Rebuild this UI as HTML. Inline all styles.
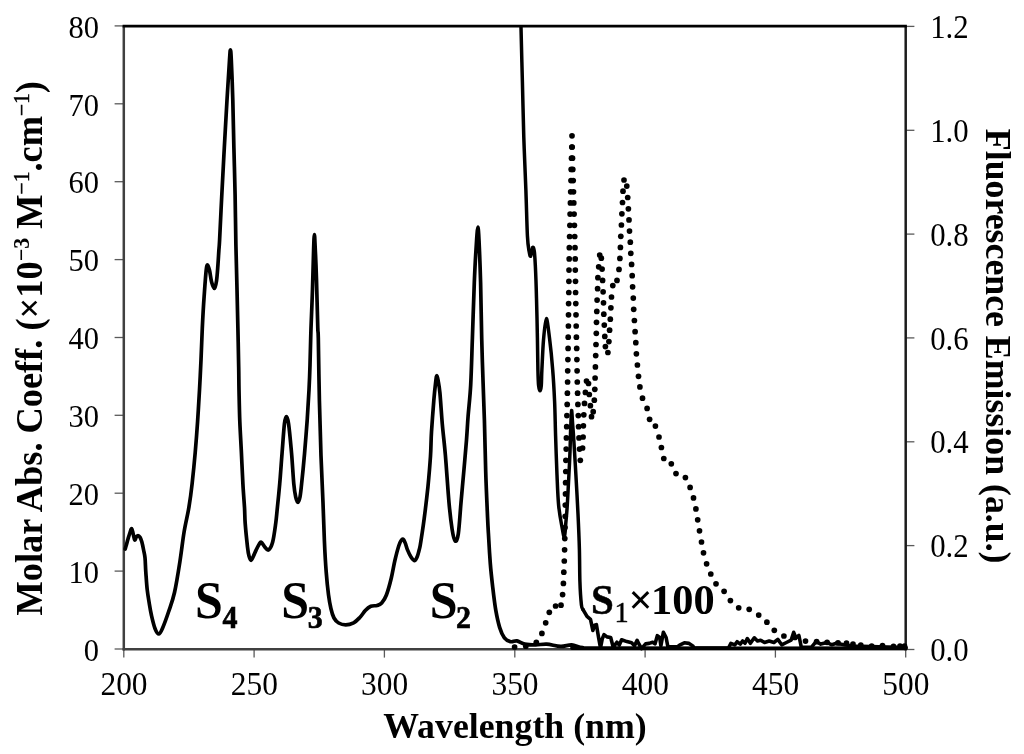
<!DOCTYPE html><html><head><meta charset="utf-8"><title>Absorption and fluorescence spectra</title>
<style>html,body{margin:0;padding:0;background:#fff}svg{display:block}text{font-family:"Liberation Serif","Times New Roman",serif;fill:#000}.tk{font-size:30.5px}.b{font-weight:bold}</style></head><body>
<svg width="1024" height="754" viewBox="0 0 1024 754">
<rect width="1024" height="754" fill="#fff"/>
<g stroke="#5a5a5a" stroke-width="1.3" fill="none">
<line x1="114.6" y1="649.0" x2="123.8" y2="649.0"/>
<line x1="114.6" y1="571.1" x2="123.8" y2="571.1"/>
<line x1="114.6" y1="493.2" x2="123.8" y2="493.2"/>
<line x1="114.6" y1="415.3" x2="123.8" y2="415.3"/>
<line x1="114.6" y1="337.5" x2="123.8" y2="337.5"/>
<line x1="114.6" y1="259.6" x2="123.8" y2="259.6"/>
<line x1="114.6" y1="181.7" x2="123.8" y2="181.7"/>
<line x1="114.6" y1="103.8" x2="123.8" y2="103.8"/>
<line x1="114.6" y1="25.9" x2="123.8" y2="25.9"/>
<line x1="123.8" y1="649.2" x2="123.8" y2="657.6"/>
<line x1="254.1" y1="649.2" x2="254.1" y2="657.6"/>
<line x1="384.4" y1="649.2" x2="384.4" y2="657.6"/>
<line x1="514.8" y1="649.2" x2="514.8" y2="657.6"/>
<line x1="645.1" y1="649.2" x2="645.1" y2="657.6"/>
<line x1="775.4" y1="649.2" x2="775.4" y2="657.6"/>
<line x1="905.7" y1="649.2" x2="905.7" y2="657.6"/>
<line x1="905.7" y1="649.5" x2="914.4" y2="649.5"/>
<line x1="905.7" y1="545.6" x2="914.4" y2="545.6"/>
<line x1="905.7" y1="441.8" x2="914.4" y2="441.8"/>
<line x1="905.7" y1="337.9" x2="914.4" y2="337.9"/>
<line x1="905.7" y1="234.1" x2="914.4" y2="234.1"/>
<line x1="905.7" y1="130.3" x2="914.4" y2="130.3"/>
<line x1="905.7" y1="26.4" x2="914.4" y2="26.4"/>
</g>
<g stroke="#404040" stroke-width="2.5" fill="none">
<line x1="123.8" y1="26.1" x2="123.8" y2="650.4"/>
<line x1="122.6" y1="649.2" x2="905.7" y2="649.2"/>
</g>
<line x1="905.7" y1="26.1" x2="905.7" y2="650.4" stroke="#1c1c1c" stroke-width="2.5"/>
<line x1="122.6" y1="26.1" x2="906.9" y2="26.1" stroke="#000" stroke-width="2.8"/>
<g fill="none" stroke="#000" stroke-linejoin="round" stroke-linecap="round">
<path stroke-width="3.7" d="M125.2 549.0C125.4 548.2 126.0 546.2 126.5 544.5C127.0 542.8 127.4 541.0 128.0 539.0C128.6 537.0 129.4 534.2 130.0 532.5C130.6 530.8 131.2 528.4 131.7 528.6C132.2 528.9 132.7 532.1 133.2 534.0C133.7 535.9 134.2 539.5 134.7 540.0C135.2 540.5 135.8 537.7 136.3 537.0C136.9 536.3 137.4 535.6 138.0 535.6C138.6 535.6 139.4 536.3 140.0 537.3C140.6 538.3 141.2 539.7 141.8 541.8C142.4 543.9 143.1 547.4 143.6 550.0C144.1 552.6 144.6 554.0 145.0 557.7C145.4 561.4 145.4 566.7 145.8 572.0C146.2 577.3 146.6 584.4 147.2 589.6C147.8 594.8 148.5 598.7 149.2 603.0C149.9 607.3 150.5 611.2 151.5 615.5C152.5 619.8 153.8 625.4 155.0 628.5C156.2 631.6 157.6 634.0 158.8 634.0C160.0 634.0 160.8 632.2 162.4 628.5C164.0 624.8 166.5 618.0 168.5 612.0C170.5 606.0 172.6 601.0 174.5 592.5C176.4 584.0 178.4 571.2 180.0 561.0C181.6 550.8 182.7 540.2 184.2 531.3C185.7 522.4 187.6 515.3 188.9 507.4C190.2 499.5 191.1 493.0 192.1 483.9C193.1 474.8 194.3 463.0 195.2 452.6C196.1 442.2 196.9 431.7 197.6 421.3C198.3 410.9 198.9 400.2 199.5 390.0C200.1 379.8 200.5 370.3 201.0 360.0C201.5 349.7 201.8 338.7 202.3 328.2C202.8 317.7 203.4 306.6 204.1 296.9C204.8 287.2 205.6 275.3 206.2 270.0C206.8 264.7 207.1 264.9 207.7 265.0C208.2 265.1 208.8 267.5 209.5 270.3C210.2 273.1 210.8 279.0 211.6 282.0C212.4 285.0 213.7 288.7 214.5 288.5C215.3 288.3 215.9 284.8 216.5 281.0C217.1 277.2 217.5 270.7 217.9 265.5C218.3 260.3 218.6 254.2 218.9 250.0C219.2 245.8 219.1 249.2 219.6 240.0C220.1 230.8 221.0 210.3 221.8 195.0C222.6 179.7 223.4 163.8 224.3 148.0C225.2 132.2 226.1 114.7 227.0 100.0C227.9 85.3 228.9 68.4 229.5 60.0C230.1 51.6 230.1 49.8 230.4 49.8C230.7 49.8 230.9 51.6 231.3 60.0C231.7 68.4 232.4 85.3 232.8 100.0C233.2 114.7 233.5 132.2 233.9 148.0C234.3 163.8 234.8 178.8 235.1 195.0C235.4 211.2 235.6 229.3 235.9 245.0C236.2 260.7 236.7 275.2 237.0 289.1C237.3 303.0 237.6 315.1 237.9 328.2C238.2 341.2 238.5 357.1 238.7 367.4C238.9 377.7 238.8 381.0 239.0 390.0C239.2 399.0 239.4 410.9 239.8 421.3C240.2 431.7 240.9 442.2 241.4 452.6C241.9 463.0 242.4 474.8 242.9 483.9C243.4 493.0 244.1 500.8 244.5 507.4C244.9 514.0 244.7 516.9 245.2 523.5C245.7 530.1 246.9 541.6 247.5 547.0C248.1 552.4 248.4 553.8 249.0 556.0C249.6 558.2 250.3 560.3 251.1 560.3C251.8 560.3 252.7 557.7 253.5 556.0C254.3 554.3 255.2 552.0 256.1 550.1C257.0 548.2 258.1 545.8 259.0 544.5C259.9 543.2 260.2 541.9 261.2 542.3C262.2 542.7 263.6 545.7 264.8 547.0C266.0 548.3 267.2 550.8 268.5 550.0C269.8 549.2 271.4 546.7 272.6 542.3C273.8 537.9 274.9 529.3 275.7 523.5C276.5 517.7 276.7 514.0 277.4 507.4C278.1 500.8 278.9 493.0 279.7 483.9C280.5 474.8 281.3 462.6 282.1 452.6C282.9 442.6 283.7 430.0 284.4 424.0C285.1 418.0 285.7 416.6 286.4 416.6C287.1 416.6 287.8 418.0 288.6 424.0C289.5 430.0 290.6 442.6 291.5 452.6C292.4 462.6 293.1 476.5 293.8 483.9C294.5 491.3 295.0 493.9 295.7 497.0C296.4 500.1 297.3 502.3 298.0 502.3C298.7 502.3 299.4 500.1 300.0 497.0C300.6 493.9 300.9 491.1 301.6 483.9C302.4 476.7 303.6 464.6 304.5 454.0C305.4 443.4 306.4 430.7 307.2 420.0C307.9 409.3 308.5 399.2 309.0 390.0C309.5 380.8 309.7 375.3 310.0 365.0C310.3 354.7 310.6 340.7 311.0 328.0C311.4 315.3 312.1 302.0 312.5 289.0C312.9 276.0 313.3 259.1 313.6 250.0C313.9 240.9 314.1 234.5 314.4 234.5C314.7 234.5 314.9 242.4 315.3 250.0C315.7 257.6 316.1 267.0 316.5 280.0C316.9 293.0 317.5 318.3 317.8 328.0C318.1 337.7 318.0 325.9 318.3 338.0C318.6 350.1 318.9 380.9 319.4 400.6C319.8 420.3 320.4 438.9 321.0 456.0C321.6 473.1 322.4 488.8 323.0 503.0C323.6 517.2 323.9 529.5 324.4 541.0C324.9 552.5 325.5 563.0 326.2 572.0C326.9 581.0 327.7 588.7 328.5 594.8C329.3 600.9 330.0 604.6 330.9 608.5C331.8 612.4 332.7 615.6 334.0 618.0C335.3 620.4 336.8 621.9 338.7 623.0C340.6 624.1 343.2 624.8 345.7 624.8C348.2 624.8 351.2 624.0 353.6 622.8C356.0 621.6 357.9 619.5 359.8 617.5C361.8 615.5 363.5 612.4 365.3 610.5C367.1 608.6 368.9 607.1 370.8 606.3C372.8 605.5 375.2 606.0 377.0 605.5C378.8 605.0 380.1 604.8 381.7 603.0C383.3 601.2 384.8 599.2 386.4 595.0C388.0 590.8 389.9 583.8 391.3 578.0C392.7 572.2 393.7 565.4 395.0 560.0C396.3 554.6 397.7 549.0 398.9 545.5C400.1 542.0 401.4 539.7 402.4 539.2C403.4 538.7 404.1 540.7 405.0 542.5C405.9 544.3 406.5 547.5 407.5 549.9C408.5 552.3 409.8 555.2 411.0 557.0C412.2 558.8 413.6 560.7 414.7 560.6C415.8 560.5 416.6 558.1 417.3 556.5C418.0 554.9 418.4 552.8 418.9 551.0C419.4 549.2 419.7 548.3 420.2 545.5C420.7 542.7 421.3 538.5 422.0 534.0C422.7 529.5 423.2 526.4 424.2 518.6C425.2 510.8 426.8 497.7 427.9 487.3C428.9 476.9 429.9 465.2 430.5 456.0C431.1 446.8 430.9 441.1 431.5 431.9C432.1 422.7 433.1 409.1 433.8 400.6C434.5 392.1 435.3 385.2 435.8 381.0C436.3 376.8 436.5 375.6 436.9 375.6C437.3 375.6 437.7 378.1 438.2 381.0C438.7 383.9 439.2 385.6 439.9 392.8C440.6 400.0 441.4 413.7 442.3 424.1C443.2 434.5 444.3 442.3 445.4 455.4C446.5 468.5 447.9 490.3 449.0 502.6C450.1 514.9 451.1 522.8 452.1 529.2C453.1 535.6 454.2 540.2 455.2 541.0C456.2 541.8 457.3 540.3 458.3 533.9C459.3 527.5 460.1 513.0 461.0 502.6C461.9 492.2 462.9 481.7 463.8 471.3C464.7 460.9 465.8 449.2 466.5 440.0C467.2 430.8 467.4 425.4 468.1 416.2C468.8 407.0 470.0 397.9 470.7 384.9C471.4 371.9 471.8 355.1 472.4 338.0C473.0 320.9 473.7 297.1 474.3 282.6C474.9 268.2 475.3 260.5 475.9 251.3C476.5 242.1 477.3 227.2 477.9 227.2C478.5 227.2 479.1 242.1 479.5 251.3C479.9 260.5 480.2 268.2 480.6 282.6C481.0 297.1 481.3 322.2 481.7 338.0C482.1 353.8 482.4 363.4 482.9 377.1C483.3 390.8 483.9 404.3 484.4 420.0C484.9 435.7 485.2 454.9 485.7 471.3C486.2 487.7 487.1 506.8 487.6 518.2C488.1 529.7 488.4 532.5 488.8 540.0C489.2 547.5 489.7 555.7 490.3 563.5C490.9 571.3 491.8 579.2 492.7 587.0C493.6 594.8 494.6 603.6 495.8 610.4C497.0 617.2 498.3 623.0 499.7 627.6C501.1 632.2 502.6 635.4 504.4 637.8C506.2 640.1 508.6 641.2 510.7 641.7C512.8 642.2 514.5 640.5 516.9 640.9C519.2 641.3 521.7 643.4 524.8 644.1C527.9 644.8 532.1 644.9 535.7 644.9C539.4 644.9 542.5 643.9 546.7 644.1C550.9 644.4 556.6 646.3 560.8 646.4C565.0 646.5 568.1 644.7 571.7 644.9C575.4 645.1 578.0 647.2 582.7 647.7C587.4 648.2 546.1 648.1 600.0 648.2C653.9 648.3 855.0 648.2 906.0 648.2"/>
<path stroke-width="3.5" d="M521.0 27.2C521.2 36.3 521.9 63.6 522.4 82.0C522.9 100.4 523.2 119.3 523.8 137.4C524.4 155.5 525.3 174.2 525.9 190.6C526.5 207.0 526.9 225.5 527.4 235.6C527.9 245.7 528.5 247.9 529.1 251.3C529.7 254.7 530.1 256.8 530.7 256.2C531.3 255.5 532.1 248.2 532.7 247.4C533.3 246.6 533.8 248.0 534.3 251.3C534.8 254.6 535.0 259.2 535.4 267.0C535.8 274.8 536.2 286.5 536.5 298.2C536.8 309.9 537.2 325.5 537.4 337.4C537.6 349.2 537.7 361.3 537.9 369.3C538.1 377.3 538.2 381.9 538.6 385.5C539.0 389.1 539.5 390.8 540.0 390.8C540.5 390.8 541.0 389.1 541.3 385.5C541.6 381.9 541.5 376.9 541.9 369.3C542.3 361.7 542.8 348.4 543.5 340.0C544.2 331.6 545.3 318.9 546.3 318.6C547.3 318.3 548.4 329.4 549.5 338.0C550.6 346.6 551.9 359.4 552.7 370.0C553.6 380.6 554.1 390.5 554.6 401.5C555.1 412.5 555.2 423.8 555.6 436.0C556.0 448.2 556.5 463.5 557.0 475.0C557.5 486.5 557.8 496.5 558.6 505.0C559.4 513.5 560.8 520.7 561.8 526.0C562.8 531.3 563.7 537.7 564.4 537.0C565.1 536.3 565.4 527.3 565.9 522.0C566.4 516.7 566.8 512.8 567.3 505.0C567.8 497.2 568.4 483.9 568.9 475.0C569.4 466.1 569.7 459.4 570.0 451.6C570.3 443.8 570.4 434.9 570.7 428.0C571.0 421.1 571.3 411.0 571.6 410.5C571.9 410.0 572.3 420.1 572.7 425.0C573.1 429.9 573.3 431.7 573.8 440.0C574.3 448.3 575.2 462.7 575.9 475.0C576.6 487.3 577.4 501.6 578.0 514.0C578.6 526.4 579.1 538.3 579.4 549.5C579.7 560.7 579.6 572.1 579.9 581.3C580.2 590.5 580.9 600.1 581.4 604.8C581.9 609.5 582.6 608.6 582.9 609.4"/>
<path stroke-width="3.6" d="M582.9 609.4L587.0 616.4L590.5 619.3L592.9 630.5L594.6 625.2L596.4 624.6L598.8 638.7L600.5 648.0L602.3 638.7L604.0 634.6L607.0 636.9L610.7 637.5L613.4 648.0L615.2 644.5L616.9 642.2L619.3 645.1L621.6 639.8L626.9 641.6L631.6 642.8L634.5 645.7L637.1 640.4L639.2 644.5L641.5 648.6L645.6 643.9L649.1 643.4L652.7 642.2L655.0 643.9L657.3 635.7L659.7 637.5L660.9 645.7L663.4 632.2L666.1 637.5L667.9 646.9L677.3 646.9L679.6 645.1L684.3 642.8L689.0 643.4L693.1 646.3L694.0 648.0L728.5 648.0L730.9 643.3L734.8 644.9L737.1 641.7L740.3 644.1L742.6 641.0L745.0 643.3L747.3 638.6L750.4 643.3L754.3 637.8L757.5 641.0L760.6 640.2L764.5 642.5L769.2 641.0L773.9 642.5L777.8 639.4L781.7 644.8L786.4 642.5L791.1 640.2L793.7 632.3L795.8 637.8L798.9 635.5L801.3 647.2L811.5 647.2L816.1 641.7L820.8 644.1L827.1 642.5L831.8 644.8L836.5 643.3L845.0 645.0L855.0 646.0L870.0 646.5L906.0 647.5"/>
</g>
<g fill="#000"><circle cx="514.6" cy="647.0" r="2.85"/><circle cx="525.8" cy="646.2" r="2.85"/><circle cx="536.3" cy="642.3" r="2.85"/><circle cx="541.9" cy="633.4" r="2.85"/><circle cx="545.7" cy="622.8" r="2.85"/><circle cx="549.3" cy="612.3" r="2.85"/><circle cx="555.6" cy="606.0" r="2.85"/><circle cx="561.0" cy="605.2" r="2.85"/><circle cx="562.6" cy="594.6" r="2.85"/><circle cx="563.4" cy="583.4" r="2.85"/><circle cx="563.8" cy="572.2" r="2.85"/><circle cx="564.3" cy="561.0" r="2.85"/><circle cx="564.6" cy="549.8" r="2.85"/><circle cx="564.8" cy="538.6" r="2.85"/><circle cx="565.0" cy="527.5" r="2.85"/><circle cx="565.2" cy="516.3" r="2.85"/><circle cx="565.3" cy="505.1" r="2.85"/><circle cx="565.5" cy="493.9" r="2.85"/><circle cx="565.6" cy="482.7" r="2.85"/><circle cx="565.8" cy="471.5" r="2.85"/><circle cx="565.9" cy="460.3" r="2.85"/><circle cx="566.2" cy="449.1" r="2.85"/><circle cx="566.4" cy="437.9" r="2.85"/><circle cx="566.7" cy="426.7" r="2.85"/><circle cx="566.9" cy="415.6" r="2.85"/><circle cx="567.2" cy="404.4" r="2.85"/><circle cx="567.4" cy="393.2" r="2.85"/><circle cx="567.6" cy="382.0" r="2.85"/><circle cx="567.7" cy="370.8" r="2.85"/><circle cx="567.9" cy="359.6" r="2.85"/><circle cx="568.1" cy="348.4" r="2.85"/><circle cx="568.2" cy="337.2" r="2.85"/><circle cx="568.4" cy="326.0" r="2.85"/><circle cx="568.5" cy="314.8" r="2.85"/><circle cx="568.6" cy="303.6" r="2.85"/><circle cx="568.8" cy="292.5" r="2.85"/><circle cx="568.9" cy="281.3" r="2.85"/><circle cx="569.0" cy="270.1" r="2.85"/><circle cx="569.2" cy="258.9" r="2.85"/><circle cx="569.3" cy="247.7" r="2.85"/><circle cx="569.6" cy="236.5" r="2.85"/><circle cx="569.9" cy="225.3" r="2.85"/><circle cx="570.1" cy="214.1" r="2.85"/><circle cx="570.4" cy="202.9" r="2.85"/><circle cx="570.7" cy="191.8" r="2.85"/><circle cx="571.0" cy="180.6" r="2.85"/><circle cx="571.2" cy="169.4" r="2.85"/><circle cx="571.5" cy="158.2" r="2.85"/><circle cx="571.8" cy="147.0" r="2.85"/><circle cx="572.0" cy="135.8" r="2.85"/><circle cx="572.2" cy="147.0" r="2.85"/><circle cx="572.5" cy="158.2" r="2.85"/><circle cx="572.8" cy="169.4" r="2.85"/><circle cx="573.2" cy="180.6" r="2.85"/><circle cx="573.5" cy="191.8" r="2.85"/><circle cx="573.8" cy="202.9" r="2.85"/><circle cx="574.1" cy="214.1" r="2.85"/><circle cx="574.4" cy="225.3" r="2.85"/><circle cx="574.7" cy="236.5" r="2.85"/><circle cx="575.0" cy="247.7" r="2.85"/><circle cx="575.2" cy="258.9" r="2.85"/><circle cx="575.3" cy="270.1" r="2.85"/><circle cx="575.5" cy="281.3" r="2.85"/><circle cx="575.6" cy="292.5" r="2.85"/><circle cx="575.8" cy="303.6" r="2.85"/><circle cx="576.0" cy="314.8" r="2.85"/><circle cx="576.2" cy="326.0" r="2.85"/><circle cx="576.4" cy="337.2" r="2.85"/><circle cx="576.7" cy="348.4" r="2.85"/><circle cx="576.9" cy="359.6" r="2.85"/><circle cx="577.1" cy="370.8" r="2.85"/><circle cx="577.3" cy="382.0" r="2.85"/><circle cx="577.6" cy="393.2" r="2.85"/><circle cx="577.9" cy="404.4" r="2.85"/><circle cx="578.3" cy="415.6" r="2.85"/><circle cx="578.6" cy="426.7" r="2.85"/><circle cx="579.0" cy="437.9" r="2.85"/><circle cx="579.5" cy="449.1" r="2.85"/><circle cx="580.3" cy="460.3" r="2.85"/><circle cx="582.6" cy="448.0" r="2.85"/><circle cx="583.1" cy="437.0" r="2.85"/><circle cx="583.4" cy="425.8" r="2.85"/><circle cx="583.8" cy="414.8" r="2.85"/><circle cx="584.5" cy="403.4" r="2.85"/><circle cx="585.4" cy="392.4" r="2.85"/><circle cx="586.5" cy="381.0" r="2.85"/><circle cx="588.5" cy="383.5" r="2.85"/><circle cx="589.3" cy="394.5" r="2.85"/><circle cx="590.4" cy="405.7" r="2.85"/><circle cx="591.5" cy="416.7" r="2.85"/><circle cx="593.2" cy="411.7" r="2.85"/><circle cx="594.3" cy="400.2" r="2.85"/><circle cx="594.8" cy="389.3" r="2.85"/><circle cx="595.1" cy="378.0" r="2.85"/><circle cx="595.4" cy="366.9" r="2.85"/><circle cx="595.7" cy="355.6" r="2.85"/><circle cx="596.0" cy="344.5" r="2.85"/><circle cx="596.3" cy="333.3" r="2.85"/><circle cx="596.5" cy="322.3" r="2.85"/><circle cx="596.8" cy="311.4" r="2.85"/><circle cx="597.1" cy="300.1" r="2.85"/><circle cx="597.6" cy="288.7" r="2.85"/><circle cx="597.9" cy="277.7" r="2.85"/><circle cx="598.7" cy="266.8" r="2.85"/><circle cx="599.7" cy="255.0" r="2.85"/><circle cx="601.3" cy="258.2" r="2.85"/><circle cx="602.1" cy="269.1" r="2.85"/><circle cx="602.6" cy="280.4" r="2.85"/><circle cx="603.1" cy="291.8" r="2.85"/><circle cx="603.5" cy="302.8" r="2.85"/><circle cx="603.8" cy="314.2" r="2.85"/><circle cx="604.3" cy="325.1" r="2.85"/><circle cx="604.8" cy="336.4" r="2.85"/><circle cx="605.4" cy="346.6" r="2.85"/><circle cx="607.9" cy="352.5" r="2.85"/><circle cx="608.9" cy="341.6" r="2.85"/><circle cx="609.6" cy="330.2" r="2.85"/><circle cx="610.3" cy="319.2" r="2.85"/><circle cx="610.9" cy="307.8" r="2.85"/><circle cx="611.5" cy="297.0" r="2.85"/><circle cx="612.8" cy="285.6" r="2.85"/><circle cx="617.0" cy="280.4" r="2.85"/><circle cx="619.0" cy="269.4" r="2.85"/><circle cx="619.9" cy="258.4" r="2.85"/><circle cx="620.4" cy="247.4" r="2.85"/><circle cx="620.8" cy="236.3" r="2.85"/><circle cx="621.4" cy="225.0" r="2.85"/><circle cx="621.9" cy="213.8" r="2.85"/><circle cx="622.5" cy="202.5" r="2.85"/><circle cx="623.0" cy="191.2" r="2.85"/><circle cx="624.0" cy="180.0" r="2.85"/><circle cx="626.8" cy="186.1" r="2.85"/><circle cx="627.7" cy="197.5" r="2.85"/><circle cx="628.4" cy="208.8" r="2.85"/><circle cx="629.0" cy="219.9" r="2.85"/><circle cx="629.5" cy="231.1" r="2.85"/><circle cx="630.3" cy="242.2" r="2.85"/><circle cx="630.8" cy="253.4" r="2.85"/><circle cx="631.6" cy="264.4" r="2.85"/><circle cx="632.2" cy="275.7" r="2.85"/><circle cx="632.6" cy="286.8" r="2.85"/><circle cx="633.3" cy="298.1" r="2.85"/><circle cx="633.7" cy="309.3" r="2.85"/><circle cx="634.4" cy="320.5" r="2.85"/><circle cx="635.1" cy="331.7" r="2.85"/><circle cx="635.8" cy="342.7" r="2.85"/><circle cx="636.4" cy="353.8" r="2.85"/><circle cx="637.4" cy="365.0" r="2.85"/><circle cx="638.5" cy="376.3" r="2.85"/><circle cx="639.9" cy="386.9" r="2.85"/><circle cx="642.5" cy="398.2" r="2.85"/><circle cx="647.1" cy="408.4" r="2.85"/><circle cx="649.6" cy="419.3" r="2.85"/><circle cx="655.4" cy="426.1" r="2.85"/><circle cx="659.0" cy="437.0" r="2.85"/><circle cx="661.4" cy="447.5" r="2.85"/><circle cx="663.8" cy="458.5" r="2.85"/><circle cx="671.3" cy="463.8" r="2.85"/><circle cx="676.0" cy="473.6" r="2.85"/><circle cx="685.4" cy="477.6" r="2.85"/><circle cx="690.1" cy="487.4" r="2.85"/><circle cx="693.5" cy="497.9" r="2.85"/><circle cx="695.9" cy="508.9" r="2.85"/><circle cx="697.7" cy="519.8" r="2.85"/><circle cx="699.5" cy="530.8" r="2.85"/><circle cx="701.5" cy="542.0" r="2.85"/><circle cx="703.5" cy="552.8" r="2.85"/><circle cx="706.6" cy="563.8" r="2.85"/><circle cx="710.8" cy="574.0" r="2.85"/><circle cx="716.0" cy="583.8" r="2.85"/><circle cx="724.1" cy="591.3" r="2.85"/><circle cx="730.4" cy="600.6" r="2.85"/><circle cx="738.7" cy="607.8" r="2.85"/><circle cx="749.2" cy="609.3" r="2.85"/><circle cx="758.7" cy="615.1" r="2.85"/><circle cx="766.9" cy="622.2" r="2.85"/><circle cx="774.3" cy="630.3" r="2.85"/><circle cx="783.9" cy="636.0" r="2.85"/><circle cx="794.9" cy="637.5" r="2.85"/><circle cx="805.5" cy="641.1" r="2.85"/><circle cx="816.6" cy="641.6" r="2.85"/><circle cx="827.1" cy="642.3" r="2.85"/><circle cx="838.0" cy="642.9" r="2.85"/><circle cx="846.5" cy="643.0" r="2.85"/><circle cx="853.0" cy="644.0" r="2.85"/><circle cx="860.8" cy="645.2" r="2.85"/><circle cx="871.7" cy="646.0" r="2.85"/><circle cx="882.5" cy="645.5" r="2.85"/><circle cx="893.5" cy="646.4" r="2.85"/><circle cx="900.0" cy="646.2" r="2.85"/><circle cx="904.5" cy="646.2" r="2.85"/></g>
<text class="tk" transform="translate(99.1 660.7) scale(1 1.06)" text-anchor="end">0</text>
<text class="tk" transform="translate(99.1 582.8) scale(1 1.06)" text-anchor="end">10</text>
<text class="tk" transform="translate(99.1 504.9) scale(1 1.06)" text-anchor="end">20</text>
<text class="tk" transform="translate(99.1 427.0) scale(1 1.06)" text-anchor="end">30</text>
<text class="tk" transform="translate(99.1 349.2) scale(1 1.06)" text-anchor="end">40</text>
<text class="tk" transform="translate(99.1 271.3) scale(1 1.06)" text-anchor="end">50</text>
<text class="tk" transform="translate(99.1 193.4) scale(1 1.06)" text-anchor="end">60</text>
<text class="tk" transform="translate(99.1 115.5) scale(1 1.06)" text-anchor="end">70</text>
<text class="tk" transform="translate(99.1 37.6) scale(1 1.06)" text-anchor="end">80</text>
<text class="tk" transform="translate(124.0 695.2) scale(1 1.06)" text-anchor="middle" style="font-size:31.4px">200</text>
<text class="tk" transform="translate(254.3 695.2) scale(1 1.06)" text-anchor="middle" style="font-size:31.4px">250</text>
<text class="tk" transform="translate(384.6 695.2) scale(1 1.06)" text-anchor="middle" style="font-size:31.4px">300</text>
<text class="tk" transform="translate(515.0 695.2) scale(1 1.06)" text-anchor="middle" style="font-size:31.4px">350</text>
<text class="tk" transform="translate(645.3 695.2) scale(1 1.06)" text-anchor="middle" style="font-size:31.4px">400</text>
<text class="tk" transform="translate(775.6 695.2) scale(1 1.06)" text-anchor="middle" style="font-size:31.4px">450</text>
<text class="tk" transform="translate(905.9 695.2) scale(1 1.06)" text-anchor="middle" style="font-size:31.4px">500</text>
<text class="tk" transform="translate(930.2 661.1) scale(1 1.06)" text-anchor="start" style="font-size:30.8px">0.0</text>
<text class="tk" transform="translate(930.2 557.2) scale(1 1.06)" text-anchor="start" style="font-size:30.8px">0.2</text>
<text class="tk" transform="translate(930.2 453.4) scale(1 1.06)" text-anchor="start" style="font-size:30.8px">0.4</text>
<text class="tk" transform="translate(930.2 349.5) scale(1 1.06)" text-anchor="start" style="font-size:30.8px">0.6</text>
<text class="tk" transform="translate(930.2 245.7) scale(1 1.06)" text-anchor="start" style="font-size:30.8px">0.8</text>
<text class="tk" transform="translate(930.2 141.9) scale(1 1.06)" text-anchor="start" style="font-size:30.8px">1.0</text>
<text class="tk" transform="translate(930.2 38.0) scale(1 1.06)" text-anchor="start" style="font-size:30.8px">1.2</text>
<text class="b" transform="translate(515 738.2) scale(1 1.02)" font-size="35.8" text-anchor="middle">Wavelength (nm)</text>
<text class="b" transform="translate(42.4 348.3) rotate(-90) scale(1 1.04)" font-size="36.35" text-anchor="middle">Molar Abs. Coeff. (×10<tspan font-size="22" dy="-12.5">−3</tspan><tspan dy="12.5"> M</tspan><tspan font-size="21.5" dy="-12.5" font-weight="normal" stroke="#000" stroke-width="0.45">−1</tspan><tspan dy="12.5">.cm</tspan><tspan font-size="21.5" dy="-12.5" font-weight="normal" stroke="#000" stroke-width="0.45">−1</tspan><tspan dy="12.5">)</tspan></text>
<text class="b" transform="translate(985.8 346.2) rotate(90) scale(1 1.02)" font-size="35.8" text-anchor="middle">Fluorescence Emission (a.u.)</text>
<text class="b" transform="translate(195.0 617.9) scale(1 1.065)" font-size="50">S<tspan font-size="30" dy="9.9" dx="-0.3" stroke="#000" stroke-width="0.6">4</tspan></text>
<text class="b" transform="translate(281.2 617.9) scale(1 1.065)" font-size="50">S<tspan font-size="30" dy="9.9" dx="-1.3" stroke="#000" stroke-width="0.6">3</tspan></text>
<text class="b" transform="translate(429.8 617.9) scale(1 1.065)" font-size="50">S<tspan font-size="30" dy="9.9" dx="-1.5" stroke="#000" stroke-width="0.6">2</tspan></text>
<text class="b" transform="translate(591 614) scale(1 1.03)" font-size="41" stroke="#000" stroke-width="0.5">S<tspan font-size="28.3" dy="7.8" dx="0.6" font-weight="normal">1</tspan></text>
<text class="b" transform="translate(628.5 613.8)" font-size="42.4">×</text>
<text class="b" transform="translate(651 613.8)" font-size="42.4">100</text>
</svg></body></html>
